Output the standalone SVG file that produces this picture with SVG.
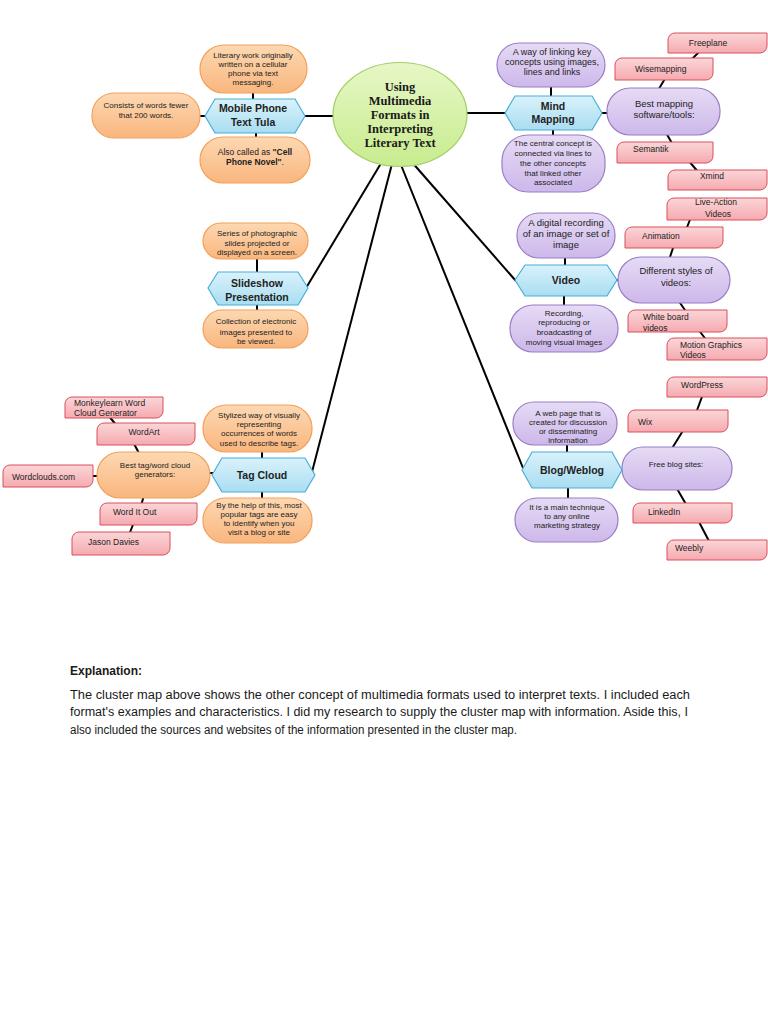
<svg xmlns="http://www.w3.org/2000/svg" width="768" height="1024" viewBox="0 0 768 1024">
<defs>
<linearGradient id="gOr" x1="0" y1="0" x2="0" y2="1"><stop offset="0" stop-color="#fdd8b2"/><stop offset="1" stop-color="#f9b67e"/></linearGradient>
<linearGradient id="gPu" x1="0" y1="0" x2="0" y2="1"><stop offset="0" stop-color="#e6dbf5"/><stop offset="1" stop-color="#cdb8ea"/></linearGradient>
<linearGradient id="gPk" x1="0" y1="0" x2="0" y2="1"><stop offset="0" stop-color="#fbd6d8"/><stop offset="1" stop-color="#f5aab0"/></linearGradient>
<linearGradient id="gHx" x1="0" y1="0" x2="0" y2="1"><stop offset="0" stop-color="#d9f2fb"/><stop offset="1" stop-color="#a9ddf1"/></linearGradient>
<linearGradient id="gEl" x1="0" y1="0" x2="0" y2="1"><stop offset="0" stop-color="#e6f7c6"/><stop offset="1" stop-color="#c8ec8e"/></linearGradient>
</defs>
<style>
.or{fill:url(#gOr);stroke:#f3a05a;stroke-width:1.2}
.pu{fill:url(#gPu);stroke:#9a7dc6;stroke-width:1.2}
.pk{fill:url(#gPk);stroke:#d9505b;stroke-width:1}
.hx{fill:url(#gHx);stroke:#4aaed6;stroke-width:1.2}
.el{fill:url(#gEl);stroke:#a4cf66;stroke-width:1.2}
.cn line{stroke:#000;stroke-width:2}
text{font-family:"Liberation Sans",Arial,sans-serif;fill:#222}
.t{font-size:8px;text-anchor:middle}
.tm{font-size:9px;text-anchor:middle}
.tp{font-size:8.5px}
.tpc{font-size:8.5px;text-anchor:middle}
.h{font-size:10.5px;font-weight:bold;text-anchor:middle}
.c{font-family:"Liberation Serif","Times New Roman",serif;font-size:12.5px;font-weight:bold;text-anchor:middle;fill:#1a1a1a}
.ex{font-size:12.5px;fill:#1a1a1a}
</style>
<rect width="768" height="1024" fill="#fff"/>
<g id="connectors" class="cn">
<line x1="305" y1="116" x2="340" y2="116"/>
<line x1="460" y1="113" x2="510" y2="113"/>
<line x1="383" y1="160" x2="306" y2="288"/>
<line x1="393" y1="160" x2="312" y2="472"/>
<line x1="399" y1="160" x2="523" y2="468"/>
<line x1="410" y1="160" x2="516" y2="281"/>
<line x1="253" y1="90" x2="253" y2="102"/>
<line x1="256" y1="130" x2="256" y2="140"/>
<line x1="195" y1="116" x2="210" y2="116"/>
<line x1="551" y1="84" x2="551" y2="100"/>
<line x1="553" y1="126" x2="553" y2="138"/>
<line x1="598" y1="113" x2="610" y2="113"/>
<line x1="701" y1="50" x2="690" y2="61"/>
<line x1="666" y1="77" x2="657" y2="92"/>
<line x1="665" y1="131" x2="673" y2="145"/>
<line x1="688" y1="160" x2="699" y2="173"/>
<line x1="257" y1="256" x2="257" y2="275"/>
<line x1="257" y1="302" x2="257" y2="313"/>
<line x1="565" y1="255" x2="565" y2="268"/>
<line x1="564" y1="293" x2="564" y2="308"/>
<line x1="613" y1="280" x2="622" y2="280"/>
<line x1="691" y1="217" x2="686" y2="230"/>
<line x1="674" y1="245" x2="669" y2="260"/>
<line x1="678" y1="300" x2="687" y2="313"/>
<line x1="698" y1="329" x2="707" y2="341"/>
<line x1="567" y1="442" x2="567" y2="455"/>
<line x1="568" y1="485" x2="568" y2="501"/>
<line x1="618" y1="470" x2="626" y2="470"/>
<line x1="703" y1="394" x2="696" y2="413"/>
<line x1="684" y1="429" x2="671" y2="450"/>
<line x1="676" y1="487" x2="687" y2="506"/>
<line x1="698" y1="520" x2="710" y2="543"/>
<line x1="262" y1="449" x2="262" y2="461"/>
<line x1="262" y1="489" x2="262" y2="501"/>
<line x1="207" y1="473" x2="216" y2="473"/>
<line x1="108" y1="415" x2="117" y2="426"/>
<line x1="133" y1="442" x2="140" y2="455"/>
<line x1="90" y1="476" x2="101" y2="476"/>
<line x1="144" y1="495" x2="141" y2="506"/>
<line x1="134" y1="522" x2="129" y2="535"/>
</g>

<g id="center">
<ellipse class="el" cx="400" cy="114.5" rx="67" ry="52"/>
<text class="c" x="400" y="91">Using</text>
<text class="c" x="400" y="105">Multimedia</text>
<text class="c" x="400" y="119">Formats in</text>
<text class="c" x="400" y="133">Interpreting</text>
<text class="c" x="400" y="147">Literary Text</text>
</g>

<!-- Mobile Phone Text Tula -->
<g id="mobile-top"><rect class="or" x="200" y="45" width="107" height="48" rx="24"/>
<text class="t" x="253" y="58">Literary work originally</text><text class="t" x="253" y="67">written on a cellular</text><text class="t" x="253" y="76">phone via text</text><text class="t" x="253" y="85">messaging.</text></g>
<g id="mobile-left"><rect class="or" x="92" y="93" width="108" height="45" rx="22"/>
<text class="t" x="146" y="108">Consists of words fewer</text><text class="t" x="146" y="118">that 200 words.</text></g>
<g id="mobile-bottom"><rect class="or" x="200" y="137" width="110" height="46" rx="23"/>
<text class="t" x="255" y="155" style="font-size:8.5px">Also called as <tspan font-weight="bold">"Cell</tspan></text><text class="t" x="255" y="165" style="font-size:8.5px"><tspan font-weight="bold">Phone Novel"</tspan>.</text></g>
<g id="mobile"><polygon class="hx" points="205,116 215,99 295,99 305,116 295,133 215,133"/>
<text class="h" x="253" y="112">Mobile Phone</text><text class="h" x="253" y="126">Text Tula</text></g>

<!-- Mind Mapping -->
<g id="mind-top"><rect class="pu" x="497" y="43" width="108" height="44" rx="22"/>
<text class="tm" x="552" y="55">A way of linking key</text><text class="tm" x="552" y="65">concepts using images,</text><text class="tm" x="552" y="75">lines and links</text></g>
<g id="mind-bottom"><rect class="pu" x="502" y="135" width="103" height="57" rx="26"/>
<text class="t" x="553" y="146">The central concept is</text><text class="t" x="553" y="156">connected via lines to</text><text class="t" x="553" y="166">the other concepts</text><text class="t" x="553" y="176">that linked other</text><text class="t" x="553" y="185">associated</text></g>
<g id="mind-tools"><rect class="pu" x="607" y="88" width="113" height="47" rx="23"/>
<text class="tm" x="664" y="107" style="font-size:9.5px">Best mapping</text><text class="tm" x="664" y="118" style="font-size:9.5px">software/tools:</text></g>
<g id="mind"><polygon class="hx" points="505,113 515,96 592,96 602,113 592,130 515,130"/>
<text class="h" x="553" y="110">Mind</text><text class="h" x="553" y="123">Mapping</text></g>
<g id="freeplane"><path class="pk" d="M675 33 H767 V46 A7 7 0 0 1 760 53 H668 V40 A7 7 0 0 1 675 33 Z"/><text class="tpc" x="708" y="46">Freeplane</text></g>
<g id="wisemapping"><path class="pk" d="M622 58 H713 V73 A7 7 0 0 1 706 80 H615 V65 A7 7 0 0 1 622 58 Z"/><text class="tp" x="635" y="72">Wisemapping</text></g>
<g id="semantik"><path class="pk" d="M624 142 H713 V156 A7 7 0 0 1 706 163 H617 V149 A7 7 0 0 1 624 142 Z"/><text class="tp" x="633" y="152">Semantik</text></g>
<g id="xmind"><path class="pk" d="M675 170 H767 V183 A7 7 0 0 1 760 190 H668 V177 A7 7 0 0 1 675 170 Z"/><text class="tpc" x="712" y="179">Xmind</text></g>

<!-- Slideshow -->
<g id="slide-top"><rect class="or" x="203" y="223" width="105" height="36" rx="18"/>
<text class="t" x="257" y="236">Series of photographic</text><text class="t" x="257" y="246">slides projected or</text><text class="t" x="257" y="255">displayed on a screen.</text></g>
<g id="slide-bottom"><rect class="or" x="203" y="310" width="105" height="38" rx="19"/>
<text class="t" x="256" y="324">Collection of electronic</text><text class="t" x="256" y="335">images presented to</text><text class="t" x="256" y="344">be viewed.</text></g>
<g id="slideshow"><polygon class="hx" points="208,288 218,272 298,272 308,288 298,305 218,305"/>
<text class="h" x="257" y="287">Slideshow</text><text class="h" x="257" y="301">Presentation</text></g>

<!-- Video -->
<g id="video-top"><rect class="pu" x="517" y="213" width="98" height="45" rx="22"/>
<text class="tm" x="566" y="226" style="font-size:9.5px">A digital recording</text><text class="tm" x="566" y="237" style="font-size:9.5px">of an image or set of</text><text class="tm" x="566" y="248" style="font-size:9.5px">image</text></g>
<g id="video-bottom"><rect class="pu" x="510" y="305" width="108" height="47" rx="23"/>
<text class="t" x="564" y="316">Recording,</text><text class="t" x="564" y="325">reproducing or</text><text class="t" x="564" y="335">broadcasting of</text><text class="t" x="564" y="345">moving visual images</text></g>
<g id="video-styles"><rect class="pu" x="618" y="257" width="112" height="46" rx="23"/>
<text class="tm" x="676" y="274" style="font-size:9.5px">Different styles of</text><text class="tm" x="676" y="286" style="font-size:9.5px">videos:</text></g>
<g id="video"><polygon class="hx" points="515,280 525,265 607,265 617,280 607,296 525,296"/>
<text class="h" x="566" y="284">Video</text></g>
<g id="live-action"><path class="pk" d="M674 198 H767 V213 A7 7 0 0 1 760 220 H667 V205 A7 7 0 0 1 674 198 Z"/><text class="tpc" x="716" y="205">Live-Action</text><text class="tpc" x="718" y="217">Videos</text></g>
<g id="animation"><path class="pk" d="M632 227 H723 V241 A7 7 0 0 1 716 248 H625 V234 A7 7 0 0 1 632 227 Z"/><text class="tp" x="642" y="239">Animation</text></g>
<g id="whiteboard"><path class="pk" d="M635 310 H727 V325 A7 7 0 0 1 720 332 H628 V317 A7 7 0 0 1 635 310 Z"/><text class="tp" x="643" y="320">White board</text><text class="tp" x="643" y="331">videos</text></g>
<g id="motion"><path class="pk" d="M674 338 H767 V353 A7 7 0 0 1 760 360 H667 V345 A7 7 0 0 1 674 338 Z"/><text class="tp" x="680" y="348">Motion Graphics</text><text class="tp" x="680" y="358">Videos</text></g>

<!-- Tag Cloud -->
<g id="tag-top"><rect class="or" x="203" y="405" width="109" height="47" rx="23"/>
<text class="t" x="259" y="418">Stylized way of visually</text><text class="t" x="259" y="427">representing</text><text class="t" x="259" y="436">occurrences of words</text><text class="t" x="259" y="446">used to describe tags.</text></g>
<g id="tag-bottom"><rect class="or" x="203" y="498" width="109" height="45" rx="22"/>
<text class="t" x="259" y="508">By the help of this, most</text><text class="t" x="259" y="517">popular tags are easy</text><text class="t" x="259" y="526">to identify when you</text><text class="t" x="259" y="535">visit a blog or site</text></g>
<g id="tag-generators"><rect class="or" x="97" y="452" width="113" height="46" rx="23"/>
<text class="t" x="155" y="468">Best tag/word cloud</text><text class="t" x="155" y="477">generators:</text></g>
<g id="tagcloud"><polygon class="hx" points="212,475 222,458 305,458 315,475 305,492 222,492"/>
<text class="h" x="262" y="479">Tag Cloud</text></g>
<g id="monkeylearn"><path class="pk" d="M72 397 H163 V411 A7 7 0 0 1 156 418 H65 V404 A7 7 0 0 1 72 397 Z"/><text class="tp" x="74" y="406">Monkeylearn Word</text><text class="tp" x="74" y="416">Cloud Generator</text></g>
<g id="wordart"><path class="pk" d="M104 423 H195 V438 A7 7 0 0 1 188 445 H97 V430 A7 7 0 0 1 104 423 Z"/><text class="tpc" x="144" y="435">WordArt</text></g>
<g id="wordclouds"><path class="pk" d="M10 465 H93 V480 A7 7 0 0 1 86 487 H3 V472 A7 7 0 0 1 10 465 Z"/><text class="tp" x="12" y="480">Wordclouds.com</text></g>
<g id="worditout"><path class="pk" d="M107 503 H197 V518 A7 7 0 0 1 190 525 H100 V510 A7 7 0 0 1 107 503 Z"/><text class="tp" x="113" y="515">Word It Out</text></g>
<g id="jasondavies"><path class="pk" d="M79 532 H170 V548 A7 7 0 0 1 163 555 H72 V539 A7 7 0 0 1 79 532 Z"/><text class="tp" x="88" y="545">Jason Davies</text></g>

<!-- Blog -->
<g id="blog-top"><rect class="pu" x="513" y="402" width="104" height="43" rx="21"/>
<text class="t" x="568" y="416">A web page that is</text><text class="t" x="568" y="425">created for discussion</text><text class="t" x="568" y="434">or disseminating</text><text class="t" x="568" y="443">information</text></g>
<g id="blog-bottom"><rect class="pu" x="515" y="498" width="103" height="44" rx="22"/>
<text class="t" x="567" y="510">It is a main technique</text><text class="t" x="567" y="519">to any online</text><text class="t" x="567" y="528">marketing strategy</text></g>
<g id="blog-sites"><rect class="pu" x="622" y="447" width="110" height="43" rx="21"/>
<text class="t" x="676" y="467">Free blog sites:</text></g>
<g id="blog"><polygon class="hx" points="522,470 532,452 612,452 622,470 612,488 532,488"/>
<text class="h" x="572" y="474">Blog/Weblog</text></g>
<g id="wordpress"><path class="pk" d="M674 377 H767 V390 A7 7 0 0 1 760 397 H667 V384 A7 7 0 0 1 674 377 Z"/><text class="tpc" x="702" y="388">WordPress</text></g>
<g id="wix"><path class="pk" d="M635 410 H728 V425 A7 7 0 0 1 721 432 H628 V417 A7 7 0 0 1 635 410 Z"/><text class="tp" x="638" y="425">Wix</text></g>
<g id="linkedin"><path class="pk" d="M640 503 H732 V516 A7 7 0 0 1 725 523 H633 V510 A7 7 0 0 1 640 503 Z"/><text class="tp" x="648" y="515">LinkedIn</text></g>
<g id="weebly"><path class="pk" d="M674 540 H767 V553 A7 7 0 0 1 760 560 H667 V547 A7 7 0 0 1 674 540 Z"/><text class="tp" x="675" y="551">Weebly</text></g>

<g id="explanation">
<text class="ex" x="70" y="675" font-weight="bold" style="font-size:12px">Explanation:</text>
<text class="ex" x="70" y="699" textLength="620" lengthAdjust="spacingAndGlyphs">The cluster map above shows the other concept of multimedia formats used to interpret texts. I included each</text>
<text class="ex" x="70" y="716" textLength="618" lengthAdjust="spacingAndGlyphs">format's examples and characteristics. I did my research to supply the cluster map with information. Aside this, I</text>
<text class="ex" x="70" y="734" textLength="447" lengthAdjust="spacingAndGlyphs">also included the sources and websites of the information presented in the cluster map.</text>
</g>
</svg>
